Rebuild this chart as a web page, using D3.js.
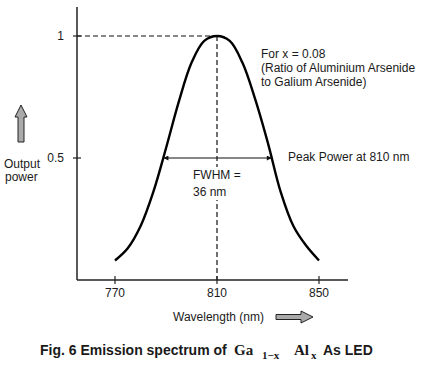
<!DOCTYPE html>
<html>
<head>
<meta charset="utf-8">
<script src="https://cdn.jsdelivr.net/npm/d3@7"></script>
<style>
  body { margin: 0; background: #fff; }
  svg text { font-family: "Liberation Sans", Arial, sans-serif; fill: #1a1a1a; }
</style>
</head>
<body>
<svg id="chart" width="430" height="368"></svg>
<script>
// Emission spectrum (every 5 nm)
const wavelengths = [770, 775, 780, 785, 790, 795, 800, 805, 810, 815, 820, 825, 830, 835, 840, 845, 850];
const power = [0.08, 0.13, 0.22, 0.36, 0.54, 0.73, 0.89, 0.98, 1.0, 0.98, 0.89, 0.74, 0.56, 0.36, 0.22, 0.14, 0.08];
const xTicks = [770, 810, 850];
const yTicks = [0.5, 1];
const peakNm = 810;
const fwhmEdges = [789, 831.5]; // where the curve crosses 0.5 in the drawing

const svg = d3.select("#chart");

// Scales: 770->115px, 850->319px ; 0->280px, 1->36px
const x = d3.scaleLinear().domain([770, 850]).range([115, 319]);
const y = d3.scaleLinear().domain([0, 1]).range([280, 36]);
const axisX = 77;
const axisY = 280;

// Arrow marker
svg.append("defs").append("marker")
  .attr("id", "ah")
  .attr("viewBox", "0 0 10 10")
  .attr("refX", 10)
  .attr("refY", 5)
  .attr("markerWidth", 8)
  .attr("markerHeight", 5)
  .attr("markerUnits", "userSpaceOnUse")
  .attr("orient", "auto-start-reverse")
  .append("path")
  .attr("d", "M0,0 L10,5 L0,10 z")
  .attr("fill", "#111");

// Axes lines
svg.append("line")
  .attr("x1", axisX).attr("y1", 7)
  .attr("x2", axisX).attr("y2", axisY)
  .attr("stroke", "#222").attr("stroke-width", 1.5);
svg.append("line")
  .attr("x1", axisX).attr("y1", axisY)
  .attr("x2", 348).attr("y2", axisY)
  .attr("stroke", "#222").attr("stroke-width", 1.5);

// Dashed guides to the peak
svg.append("line")
  .attr("x1", axisX).attr("y1", y(1))
  .attr("x2", x(peakNm)).attr("y2", y(1))
  .attr("stroke", "#111").attr("stroke-width", 1.2)
  .attr("stroke-dasharray", "5,3");
svg.append("line")
  .attr("x1", x(peakNm)).attr("y1", y(1))
  .attr("x2", x(peakNm)).attr("y2", axisY)
  .attr("stroke", "#111").attr("stroke-width", 1.2)
  .attr("stroke-dasharray", "5,3");

// X ticks
svg.selectAll("line.xtick")
  .data(xTicks)
  .enter().append("line")
  .attr("class", "xtick")
  .attr("x1", d => x(d)).attr("x2", d => x(d))
  .attr("y1", axisY - 4).attr("y2", axisY + 4)
  .attr("stroke", "#222").attr("stroke-width", 1.2);

svg.selectAll("text.xlab")
  .data(xTicks)
  .enter().append("text")
  .attr("class", "xlab")
  .attr("x", d => x(d))
  .attr("y", 297)
  .attr("text-anchor", "middle")
  .attr("font-size", 12)
  .text(d => d);

// Y ticks
svg.selectAll("line.ytick")
  .data(yTicks)
  .enter().append("line")
  .attr("class", "ytick")
  .attr("x1", axisX - 4).attr("x2", axisX + 4)
  .attr("y1", d => y(d)).attr("y2", d => y(d))
  .attr("stroke", "#222").attr("stroke-width", 1.2);

svg.selectAll("text.ylab")
  .data(yTicks)
  .enter().append("text")
  .attr("class", "ylab")
  .attr("x", 64)
  .attr("y", d => y(d) + 4)
  .attr("text-anchor", "end")
  .attr("font-size", 12)
  .text(d => d);

// Spectrum curve
const line = d3.line()
  .x((d, i) => x(wavelengths[i]))
  .y(d => y(d))
  .curve(d3.curveCatmullRom);

svg.append("path")
  .datum(power)
  .attr("d", line)
  .attr("fill", "none")
  .attr("stroke", "#000")
  .attr("stroke-width", 2.4);

// FWHM double arrow
svg.append("line")
  .attr("x1", x(fwhmEdges[0])).attr("y1", y(0.5))
  .attr("x2", x(fwhmEdges[1])).attr("y2", y(0.5))
  .attr("stroke", "#111").attr("stroke-width", 1.2)
  .attr("marker-start", "url(#ah)")
  .attr("marker-end", "url(#ah)");

// FWHM label, masking the dashed line behind it
svg.append("rect")
  .attr("x", 191).attr("y", 167).attr("width", 52).attr("height", 33)
  .attr("fill", "#fff");
svg.append("text").attr("x", 193).attr("y", 179).attr("font-size", 12).text("FWHM =");
svg.append("text").attr("x", 193).attr("y", 196).attr("font-size", 12).text("36 nm");

svg.append("text").attr("x", 288).attr("y", 161).attr("font-size", 12).text("Peak Power at 810 nm");

const note = ["For x = 0.08", "(Ratio of Aluminium Arsenide", "to Galium Arsenide)"];
svg.selectAll("text.note")
  .data(note)
  .enter().append("text")
  .attr("class", "note")
  .attr("x", 261)
  .attr("y", (d, i) => 58 + i * 14)
  .attr("font-size", 12)
  .text(d => d);

// Y axis label with gray up arrow
svg.append("text").attr("x", 4).attr("y", 168).attr("font-size", 12).text("Output");
svg.append("text").attr("x", 5).attr("y", 181).attr("font-size", 12).text("power");
svg.append("path")
  .attr("d", "M21,105 L27,117 L24,117 L24,142 L18,142 L18,117 L15,117 Z")
  .attr("fill", "#aaa")
  .attr("stroke", "#222")
  .attr("stroke-width", 1);

// X axis label with gray right arrow
svg.append("text").attr("x", 173).attr("y", 321).attr("font-size", 12).text("Wavelength (nm)");
svg.append("path")
  .attr("d", "M276,314.5 L301,314.5 L301,311 L313,317 L301,323 L301,319.5 L276,319.5 Z")
  .attr("fill", "#aaa")
  .attr("stroke", "#222")
  .attr("stroke-width", 1);

// Caption
const serif = "Liberation Serif, serif";
const cap = svg.append("text")
  .attr("y", 355)
  .attr("font-size", 14)
  .attr("font-weight", "bold");
cap.append("tspan").attr("x", 40).text("Fig. 6 Emission spectrum of");
cap.append("tspan").attr("x", 234).attr("font-family", serif).attr("font-size", 15).text("Ga");
cap.append("tspan").attr("x", 262).attr("dy", 4).attr("font-family", serif).attr("font-size", 11).text("1−x");
cap.append("tspan").attr("x", 294).attr("dy", -4).attr("font-family", serif).attr("font-size", 15).text("Al");
cap.append("tspan").attr("x", 311).attr("dy", 4).attr("font-family", serif).attr("font-size", 11).text("x");
cap.append("tspan").attr("x", 323).attr("dy", -4).text("As LED");
</script>
</body>
</html>
